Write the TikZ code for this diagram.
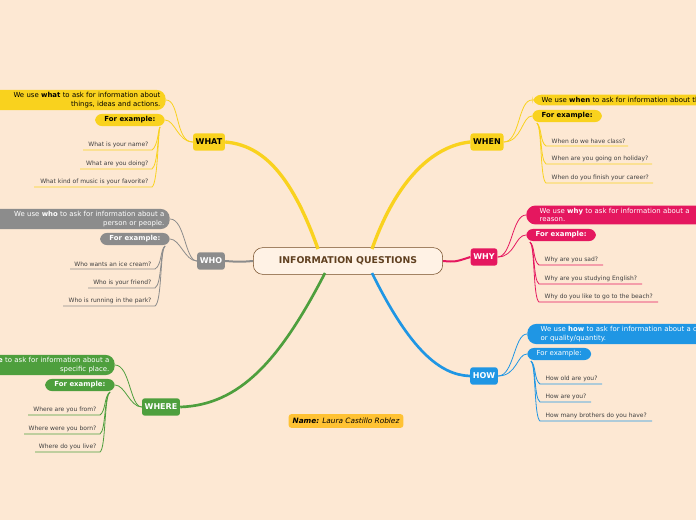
\documentclass[tikz,border=0pt]{standalone}
\usepackage{fontspec}
\setmainfont{DejaVu Sans}
\begin{document}
\begin{tikzpicture}[x=0.75pt,y=-0.75pt,
  topic/.style={rounded corners=2pt,minimum height=13pt,inner sep=2pt,font=\fontsize{6}{7}\selectfont\bfseries},
  sub/.style={rounded corners=7pt,inner xsep=4pt,inner ysep=2pt,font=\fontsize{5.2}{6.2}\selectfont},
  exm/.style={rounded corners=5pt,inner xsep=7pt,inner ysep=2pt,font=\fontsize{5.2}{6}\selectfont\bfseries},
  leaf/.style={font=\fontsize{4.5}{5}\selectfont,text=black!75,inner sep=1pt},
  br/.style={line width=0.6pt}]
\definecolor{bg}{HTML}{FDE8D3}
\definecolor{cy}{HTML}{F9D21E}
\definecolor{cr}{HTML}{E5175F}
\definecolor{cg}{HTML}{8C8C8C}
\definecolor{cgr}{HTML}{4E9F3D}
\definecolor{cb}{HTML}{1F96E4}
\fill[bg] (0,0) rectangle (696,520);
\clip (0,0) rectangle (696,520);
\useasboundingbox (0,0) rectangle (696,520);
% center
\node[draw=brown!60!black,fill=orange!10,rounded corners=7pt,minimum width=142pt,minimum height=20pt,font=\fontsize{7}{8}\selectfont\bfseries,text=brown!50!black] (c) at (348,261) {INFORMATION QUESTIONS};
% topics
\node[topic,fill=cy] (what) at (209,142) {WHAT};
\node[topic,fill=cy] (when) at (487,142) {WHEN};
\node[topic,fill=cr,text=white] (why) at (484,257) {WHY};
\node[topic,fill=cg,text=white] (who) at (211,261) {WHO};
\node[topic,fill=cgr,text=white] (where) at (161,407) {WHERE};
\node[topic,fill=cb,text=white] (how) at (484,376) {HOW};
\node[fill=orange!60!yellow!80,rounded corners=2pt,font=\fontsize{5.5}{6}\selectfont\itshape,inner sep=3pt] (name) at (346,421) {\textbf{Name:} Laura Castillo Roblez};
% main branches
\draw[cy,line width=2.5pt] (318,249) .. controls (290,170) and (260,145) .. (what.east);
\draw[cy,line width=2.5pt] (372,249) .. controls (400,170) and (440,145) .. (when.west);
\draw[cr,line width=1.5pt] (c.east) .. controls (455,262) .. (why.west);
\draw[cg,line width=1.5pt] (c.west) .. controls (240,262) .. (who.east);
\draw[cgr,line width=2pt] (325,273) .. controls (280,360) and (240,405) .. (where.east);
\draw[cb,line width=2pt] (372,273) .. controls (410,350) and (440,375) .. (how.west);
% WHAT
\node[sub,fill=cy,anchor=east,align=right,text width=170pt] (whatd) at (166,100) {We use \textbf{what} to ask for information about\\things, ideas and actions.};
\node[exm,fill=cy,anchor=east] (whate) at (165,120) {For example:};
\draw[cy,br] (whatd.east) .. controls (180,100) and (175,142) .. (what.west);
\draw[cy,br] (whate.east) .. controls (175,120) and (178,142) .. (what.west);
\foreach \t/\y/\l [count=\i] in {What is your name?/146/83,What are you doing?/165/80,What kind of music is your favorite?/183/34}{
 \node[leaf,anchor=south east] (wl\i) at (150,\y+3) {\t};
 \draw[cy,br] (\l,\y+4) -- (152,\y+4) .. controls (158,\y) and (158,130) .. (160,127);
}
% WHO
\node[sub,fill=cg,text=white,anchor=east,align=right,text width=170pt] (whod) at (170,219) {We use \textbf{who} to ask for information about a\\person or people.};
\node[exm,fill=cg,text=white,anchor=east] (whoe) at (170,239) {For example:};
\draw[cg,br] (whod.east) .. controls (185,219) and (185,261) .. (who.west);
\draw[cg,br] (whoe.east) .. controls (180,239) and (185,261) .. (who.west);
\foreach \t/\y/\l [count=\i] in {Who wants an ice cream?/265/70,Who is your friend?/284/88,Who is running in the park?/302/63}{
 \node[leaf,anchor=south east] (hl\i) at (153,\y+3) {\t};
 \draw[cg,br] (\l,\y+4) -- (155,\y+4) .. controls (162,\y) and (160,250) .. (165,246);
}
% WHERE
\node[sub,fill=cgr,text=white,anchor=east,align=right,text width=160pt] (wherd) at (115,365) {We use \textbf{where} to ask for information about a\\specific place.};
\node[exm,fill=cgr,text=white,anchor=east] (wheree) at (115,385) {For example:};
\draw[cgr,br] (wherd.east) .. controls (130,365) and (130,407) .. (where.west);
\draw[cgr,br] (wheree.east) .. controls (125,385) and (130,407) .. (where.west);
\foreach \t/\y/\l [count=\i] in {Where are you from?/411/28,Where were you born?/430/24,Where do you live?/448/35}{
 \node[leaf,anchor=south east] (rl\i) at (98,\y+3) {\t};
 \draw[cgr,br] (\l,\y+4) -- (100,\y+4) .. controls (106,\y) and (104,396) .. (110,392);
}
% WHEN
\node[sub,fill=cy,anchor=west,text width=180pt,inner xsep=7pt] (whend) at (532,100) {We use \textbf{when} to ask for information about the time.};
\node[exm,fill=cy,anchor=west] (whene) at (532,116) {For example:};
\draw[cy,br] (when.east) .. controls (520,142) and (518,100) .. (whend.west);
\draw[cy,br] (when.east) .. controls (522,142) and (522,116) .. (whene.west);
\foreach \t/\y/\r [count=\i] in {When do we have class?/142/628,When are you going on holiday?/160/652,When do you finish your career?/179/653}{
 \node[leaf,anchor=south west] (nl\i) at (550,\y+3) {\t};
 \draw[cy,br] (\r,\y+4) -- (546,\y+4) .. controls (540,\y) and (542,128) .. (537,123);
}
% WHY
\node[sub,fill=cr,text=white,anchor=west,align=left,text width=180pt,inner xsep=10pt] (whyd) at (526,215) {We use \textbf{why} to ask for information about a\\reason.};
\node[exm,fill=cr,text=white,anchor=west] (whye) at (526,235) {For example:};
\draw[cr,br] (why.east) .. controls (512,257) and (512,215) .. (whyd.west);
\draw[cr,br] (why.east) .. controls (515,257) and (515,235) .. (whye.west);
\foreach \t/\y/\r [count=\i] in {Why are you sad?/261/603,Why are you studying English?/280/642,Why do you like to go to the beach?/298/658}{
 \node[leaf,anchor=south west] (yl\i) at (543,\y+3) {\t};
 \draw[cr,br] (\r,\y+4) -- (539,\y+4) .. controls (533,\y) and (535,246) .. (530,242);
}
% HOW
\node[sub,fill=cb,text=white,anchor=west,align=left,text width=180pt,inner xsep=10pt] (howd) at (527,334) {We use \textbf{how} to ask for information about a condition\\or quality/quantity.};
\node[exm,fill=cb,text=white,anchor=west,font=\fontsize{5.2}{6}\selectfont] (howe) at (527,354) {For example:};
\draw[cb,br] (how.east) .. controls (514,376) and (514,334) .. (howd.west);
\draw[cb,br] (how.east) .. controls (517,376) and (517,354) .. (howe.west);
\foreach \t/\y/\r [count=\i] in {How old are you?/380/602,How are you?/398/591,How many brothers do you have?/417/652}{
 \node[leaf,anchor=south west] (ol\i) at (544,\y+3) {\t};
 \draw[cb,br] (\r,\y+4) -- (540,\y+4) .. controls (534,\y) and (536,365) .. (531,361);
}
\end{tikzpicture}
\end{document}
